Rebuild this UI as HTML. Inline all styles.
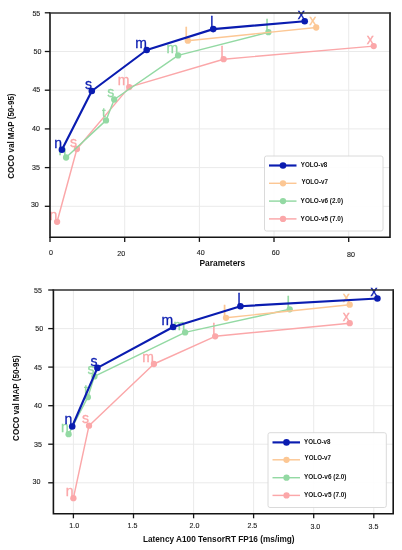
<!DOCTYPE html><html><head><meta charset="utf-8"><title>YOLO comparison</title><style>html,body{margin:0;padding:0;background:#fff}svg{display:block}text{font-family:"Liberation Sans","DejaVu Sans",sans-serif}</style></head><body>
<svg width="402" height="550" viewBox="0 0 402 550">
<rect width="402" height="550" fill="#fff"/>
<line x1="124.7" y1="13.0" x2="124.7" y2="237.3" stroke="#eaeaea" stroke-width="1"/>
<line x1="199.4" y1="13.0" x2="199.4" y2="237.3" stroke="#eaeaea" stroke-width="1"/>
<line x1="274.0" y1="13.0" x2="274.0" y2="237.3" stroke="#eaeaea" stroke-width="1"/>
<line x1="348.7" y1="13.0" x2="348.7" y2="237.3" stroke="#eaeaea" stroke-width="1"/>
<line x1="50" y1="51.5" x2="390.0" y2="51.5" stroke="#eaeaea" stroke-width="1"/>
<line x1="50" y1="90.2" x2="390.0" y2="90.2" stroke="#eaeaea" stroke-width="1"/>
<line x1="50" y1="128.9" x2="390.0" y2="128.9" stroke="#eaeaea" stroke-width="1"/>
<line x1="50" y1="167.6" x2="390.0" y2="167.6" stroke="#eaeaea" stroke-width="1"/>
<line x1="50" y1="206.3" x2="390.0" y2="206.3" stroke="#eaeaea" stroke-width="1"/>
<polyline points="57.1,221.8 76.9,149.0 129.2,87.1 223.6,59.2 373.7,46.1" fill="none" stroke="#fba7a9" stroke-width="1.45" stroke-linejoin="round"/>
<circle cx="57.1" cy="221.8" r="3.15" fill="#fba7a9"/>
<circle cx="76.9" cy="149.0" r="3.15" fill="#fba7a9"/>
<circle cx="129.2" cy="87.1" r="3.15" fill="#fba7a9"/>
<circle cx="223.6" cy="59.2" r="3.15" fill="#fba7a9"/>
<circle cx="373.7" cy="46.1" r="3.15" fill="#fba7a9"/>
<text x="57.2" y="219.5" font-size="14" font-family="DejaVu Sans,sans-serif" fill="#fba7a9" stroke="#fba7a9" stroke-width="0.3" text-anchor="end">n</text>
<text x="77.0" y="146.7" font-size="14" font-family="DejaVu Sans,sans-serif" fill="#fba7a9" stroke="#fba7a9" stroke-width="0.3" text-anchor="end">s</text>
<text x="129.3" y="84.8" font-size="14" font-family="DejaVu Sans,sans-serif" fill="#fba7a9" stroke="#fba7a9" stroke-width="0.3" text-anchor="end">m</text>
<text x="223.7" y="56.9" font-size="14" font-family="DejaVu Sans,sans-serif" fill="#fba7a9" stroke="#fba7a9" stroke-width="0.3" text-anchor="end">l</text>
<text x="373.8" y="43.8" font-size="14" font-family="DejaVu Sans,sans-serif" fill="#fba7a9" stroke="#fba7a9" stroke-width="0.3" text-anchor="end">x</text>
<polyline points="66.1,157.5 106.0,120.4 114.2,99.5 178.1,55.4 268.4,32.2" fill="none" stroke="#93d9a3" stroke-width="1.45" stroke-linejoin="round"/>
<circle cx="66.1" cy="157.5" r="3.15" fill="#93d9a3"/>
<circle cx="106.0" cy="120.4" r="3.15" fill="#93d9a3"/>
<circle cx="114.2" cy="99.5" r="3.15" fill="#93d9a3"/>
<circle cx="178.1" cy="55.4" r="3.15" fill="#93d9a3"/>
<circle cx="268.4" cy="32.2" r="3.15" fill="#93d9a3"/>
<text x="66.2" y="155.2" font-size="14" font-family="DejaVu Sans,sans-serif" fill="#93d9a3" stroke="#93d9a3" stroke-width="0.3" text-anchor="end">n</text>
<text x="105.7" y="117.0" font-size="13" font-family="DejaVu Sans,sans-serif" fill="#93d9a3" stroke="#93d9a3" stroke-width="0.3" text-anchor="end">t</text>
<text x="114.3" y="97.2" font-size="14" font-family="DejaVu Sans,sans-serif" fill="#93d9a3" stroke="#93d9a3" stroke-width="0.3" text-anchor="end">s</text>
<text x="178.2" y="53.1" font-size="14" font-family="DejaVu Sans,sans-serif" fill="#93d9a3" stroke="#93d9a3" stroke-width="0.3" text-anchor="end">m</text>
<text x="268.5" y="29.9" font-size="14" font-family="DejaVu Sans,sans-serif" fill="#93d9a3" stroke="#93d9a3" stroke-width="0.3" text-anchor="end">l</text>
<polyline points="187.8,40.7 316.2,27.5" fill="none" stroke="#fcc794" stroke-width="1.45" stroke-linejoin="round"/>
<circle cx="187.8" cy="40.7" r="3.15" fill="#fcc794"/>
<circle cx="316.2" cy="27.5" r="3.15" fill="#fcc794"/>
<text x="187.9" y="38.4" font-size="14" font-family="DejaVu Sans,sans-serif" fill="#fcc794" stroke="#fcc794" stroke-width="0.3" text-anchor="end">l</text>
<text x="316.3" y="25.2" font-size="14" font-family="DejaVu Sans,sans-serif" fill="#fcc794" stroke="#fcc794" stroke-width="0.3" text-anchor="end">x</text>
<polyline points="61.9,149.8 91.8,91.0 146.7,50.0 213.2,29.1 304.7,21.3" fill="none" stroke="#0a1cb0" stroke-width="2.15" stroke-linejoin="round"/>
<circle cx="61.9" cy="149.8" r="3.3" fill="#0a1cb0"/>
<circle cx="91.8" cy="91.0" r="3.3" fill="#0a1cb0"/>
<circle cx="146.7" cy="50.0" r="3.3" fill="#0a1cb0"/>
<circle cx="213.2" cy="29.1" r="3.3" fill="#0a1cb0"/>
<circle cx="304.7" cy="21.3" r="3.3" fill="#0a1cb0"/>
<text x="62.0" y="147.5" font-size="14" font-family="DejaVu Sans,sans-serif" fill="#0a1cb0" stroke="#0a1cb0" stroke-width="0.3" text-anchor="end">n</text>
<text x="91.9" y="88.7" font-size="14" font-family="DejaVu Sans,sans-serif" fill="#0a1cb0" stroke="#0a1cb0" stroke-width="0.3" text-anchor="end">s</text>
<text x="146.8" y="47.7" font-size="14" font-family="DejaVu Sans,sans-serif" fill="#0a1cb0" stroke="#0a1cb0" stroke-width="0.3" text-anchor="end">m</text>
<text x="213.3" y="26.8" font-size="14" font-family="DejaVu Sans,sans-serif" fill="#0a1cb0" stroke="#0a1cb0" stroke-width="0.3" text-anchor="end">l</text>
<text x="304.8" y="19.0" font-size="14" font-family="DejaVu Sans,sans-serif" fill="#0a1cb0" stroke="#0a1cb0" stroke-width="0.3" text-anchor="end">x</text>
<path d="M50 12.5V237.3H390.0V12.5" fill="none" stroke="#151515" stroke-width="1.6" stroke-linejoin="miter"/>
<line x1="49.2" y1="13.0" x2="390.8" y2="13.0" stroke="#2e2e2e" stroke-width="1.5"/>
<line x1="50.0" y1="237.3" x2="50.0" y2="241.9" stroke="#151515" stroke-width="1.3"/>
<text x="51.0" y="254.5" font-size="7.1" fill="#1c1c1c" stroke="#1c1c1c" stroke-width="0.12" text-anchor="middle">0</text>
<line x1="124.7" y1="237.3" x2="124.7" y2="241.9" stroke="#151515" stroke-width="1.3"/>
<text x="121.2" y="255.6" font-size="7.1" fill="#1c1c1c" stroke="#1c1c1c" stroke-width="0.12" text-anchor="middle">20</text>
<line x1="199.4" y1="237.3" x2="199.4" y2="241.9" stroke="#151515" stroke-width="1.3"/>
<text x="200.7" y="255.0" font-size="7.1" fill="#1c1c1c" stroke="#1c1c1c" stroke-width="0.12" text-anchor="middle">40</text>
<line x1="274.0" y1="237.3" x2="274.0" y2="241.9" stroke="#151515" stroke-width="1.3"/>
<text x="275.7" y="255.3" font-size="7.1" fill="#1c1c1c" stroke="#1c1c1c" stroke-width="0.12" text-anchor="middle">60</text>
<line x1="348.7" y1="237.3" x2="348.7" y2="241.9" stroke="#151515" stroke-width="1.3"/>
<text x="351.0" y="256.8" font-size="7.1" fill="#1c1c1c" stroke="#1c1c1c" stroke-width="0.12" text-anchor="middle">80</text>
<line x1="44.8" y1="12.8" x2="50" y2="12.8" stroke="#151515" stroke-width="1.3"/>
<text x="40.3" y="15.6" font-size="7.1" fill="#1c1c1c" stroke="#1c1c1c" stroke-width="0.12" text-anchor="end">55</text>
<line x1="44.8" y1="51.5" x2="50" y2="51.5" stroke="#151515" stroke-width="1.3"/>
<text x="41.4" y="54.0" font-size="7.1" fill="#1c1c1c" stroke="#1c1c1c" stroke-width="0.12" text-anchor="end">50</text>
<line x1="44.8" y1="90.2" x2="50" y2="90.2" stroke="#151515" stroke-width="1.3"/>
<text x="40.3" y="92.1" font-size="7.1" fill="#1c1c1c" stroke="#1c1c1c" stroke-width="0.12" text-anchor="end">45</text>
<line x1="44.8" y1="128.9" x2="50" y2="128.9" stroke="#151515" stroke-width="1.3"/>
<text x="39.9" y="131.2" font-size="7.1" fill="#1c1c1c" stroke="#1c1c1c" stroke-width="0.12" text-anchor="end">40</text>
<line x1="44.8" y1="167.6" x2="50" y2="167.6" stroke="#151515" stroke-width="1.3"/>
<text x="39.9" y="170.2" font-size="7.1" fill="#1c1c1c" stroke="#1c1c1c" stroke-width="0.12" text-anchor="end">35</text>
<line x1="44.8" y1="206.3" x2="50" y2="206.3" stroke="#151515" stroke-width="1.3"/>
<text x="38.8" y="206.9" font-size="7.1" fill="#1c1c1c" stroke="#1c1c1c" stroke-width="0.12" text-anchor="end">30</text>
<text x="199.4" y="266.3" font-size="8.3" font-weight="bold" fill="#111" textLength="45.9" lengthAdjust="spacingAndGlyphs">Parameters</text>
<text transform="translate(14.3,136.1) rotate(-90)" font-size="8.3" font-weight="bold" fill="#111" text-anchor="middle" textLength="85.2" lengthAdjust="spacingAndGlyphs">COCO val MAP (50-95)</text>
<rect x="264.5" y="156" width="118.5" height="75" rx="2" fill="#fff" fill-opacity="0.9" stroke="#d6d6d6" stroke-width="0.9"/>
<line x1="269.0" y1="165.5" x2="296.5" y2="165.5" stroke="#0a1cb0" stroke-width="2.15"/>
<circle cx="283.0" cy="165.5" r="3.3" fill="#0a1cb0"/>
<text x="300.8" y="167.2" font-size="6.6" font-weight="bold" fill="#111" textLength="26.5" lengthAdjust="spacingAndGlyphs">YOLO-v8</text>
<line x1="269.0" y1="183.3" x2="296.5" y2="183.3" stroke="#fcc794" stroke-width="1.45"/>
<circle cx="283.0" cy="183.3" r="3.15" fill="#fcc794"/>
<text x="301.4" y="183.8" font-size="6.6" font-weight="bold" fill="#111" textLength="26.5" lengthAdjust="spacingAndGlyphs">YOLO-v7</text>
<line x1="269.0" y1="201.1" x2="296.5" y2="201.1" stroke="#93d9a3" stroke-width="1.45"/>
<circle cx="283.0" cy="201.1" r="3.15" fill="#93d9a3"/>
<text x="300.6" y="202.8" font-size="6.6" font-weight="bold" fill="#111" textLength="42.5" lengthAdjust="spacingAndGlyphs">YOLO-v6 (2.0)</text>
<line x1="269.0" y1="218.9" x2="296.5" y2="218.9" stroke="#fba7a9" stroke-width="1.45"/>
<circle cx="283.0" cy="218.9" r="3.15" fill="#fba7a9"/>
<text x="300.6" y="220.6" font-size="6.6" font-weight="bold" fill="#111" textLength="42.5" lengthAdjust="spacingAndGlyphs">YOLO-v5 (7.0)</text>
<line x1="73.4" y1="290.0" x2="73.4" y2="513.7" stroke="#eaeaea" stroke-width="1"/>
<line x1="133.5" y1="290.0" x2="133.5" y2="513.7" stroke="#eaeaea" stroke-width="1"/>
<line x1="193.6" y1="290.0" x2="193.6" y2="513.7" stroke="#eaeaea" stroke-width="1"/>
<line x1="253.6" y1="290.0" x2="253.6" y2="513.7" stroke="#eaeaea" stroke-width="1"/>
<line x1="313.7" y1="290.0" x2="313.7" y2="513.7" stroke="#eaeaea" stroke-width="1"/>
<line x1="373.8" y1="290.0" x2="373.8" y2="513.7" stroke="#eaeaea" stroke-width="1"/>
<line x1="53.4" y1="328.6" x2="393.2" y2="328.6" stroke="#eaeaea" stroke-width="1"/>
<line x1="53.4" y1="367.1" x2="393.2" y2="367.1" stroke="#eaeaea" stroke-width="1"/>
<line x1="53.4" y1="405.7" x2="393.2" y2="405.7" stroke="#eaeaea" stroke-width="1"/>
<line x1="53.4" y1="444.2" x2="393.2" y2="444.2" stroke="#eaeaea" stroke-width="1"/>
<line x1="53.4" y1="482.8" x2="393.2" y2="482.8" stroke="#eaeaea" stroke-width="1"/>
<polyline points="73.4,498.2 89.0,425.7 153.9,364.0 215.2,336.3 349.7,323.2" fill="none" stroke="#fba7a9" stroke-width="1.45" stroke-linejoin="round"/>
<circle cx="73.4" cy="498.2" r="3.15" fill="#fba7a9"/>
<circle cx="89.0" cy="425.7" r="3.15" fill="#fba7a9"/>
<circle cx="153.9" cy="364.0" r="3.15" fill="#fba7a9"/>
<circle cx="215.2" cy="336.3" r="3.15" fill="#fba7a9"/>
<circle cx="349.7" cy="323.2" r="3.15" fill="#fba7a9"/>
<text x="73.5" y="495.9" font-size="14" font-family="DejaVu Sans,sans-serif" fill="#fba7a9" stroke="#fba7a9" stroke-width="0.3" text-anchor="end">n</text>
<text x="89.1" y="423.4" font-size="14" font-family="DejaVu Sans,sans-serif" fill="#fba7a9" stroke="#fba7a9" stroke-width="0.3" text-anchor="end">s</text>
<text x="154.0" y="361.7" font-size="14" font-family="DejaVu Sans,sans-serif" fill="#fba7a9" stroke="#fba7a9" stroke-width="0.3" text-anchor="end">m</text>
<text x="215.3" y="334.0" font-size="14" font-family="DejaVu Sans,sans-serif" fill="#fba7a9" stroke="#fba7a9" stroke-width="0.3" text-anchor="end">l</text>
<text x="349.8" y="320.9" font-size="14" font-family="DejaVu Sans,sans-serif" fill="#fba7a9" stroke="#fba7a9" stroke-width="0.3" text-anchor="end">x</text>
<polyline points="68.6,434.2 87.8,397.2 94.4,376.4 185.1,332.4 289.7,309.3" fill="none" stroke="#93d9a3" stroke-width="1.45" stroke-linejoin="round"/>
<circle cx="68.6" cy="434.2" r="3.15" fill="#93d9a3"/>
<circle cx="87.8" cy="397.2" r="3.15" fill="#93d9a3"/>
<circle cx="94.4" cy="376.4" r="3.15" fill="#93d9a3"/>
<circle cx="185.1" cy="332.4" r="3.15" fill="#93d9a3"/>
<circle cx="289.7" cy="309.3" r="3.15" fill="#93d9a3"/>
<text x="68.7" y="431.9" font-size="14" font-family="DejaVu Sans,sans-serif" fill="#93d9a3" stroke="#93d9a3" stroke-width="0.3" text-anchor="end">n</text>
<text x="87.9" y="394.9" font-size="14" font-family="DejaVu Sans,sans-serif" fill="#93d9a3" stroke="#93d9a3" stroke-width="0.3" text-anchor="end">t</text>
<text x="94.5" y="374.1" font-size="14" font-family="DejaVu Sans,sans-serif" fill="#93d9a3" stroke="#93d9a3" stroke-width="0.3" text-anchor="end">s</text>
<text x="185.2" y="330.1" font-size="14" font-family="DejaVu Sans,sans-serif" fill="#93d9a3" stroke="#93d9a3" stroke-width="0.3" text-anchor="end">m</text>
<text x="289.8" y="307.0" font-size="14" font-family="DejaVu Sans,sans-serif" fill="#93d9a3" stroke="#93d9a3" stroke-width="0.3" text-anchor="end">l</text>
<polyline points="226.0,317.8 349.7,304.7" fill="none" stroke="#fcc794" stroke-width="1.45" stroke-linejoin="round"/>
<circle cx="226.0" cy="317.8" r="3.15" fill="#fcc794"/>
<circle cx="349.7" cy="304.7" r="3.15" fill="#fcc794"/>
<text x="226.1" y="315.5" font-size="14" font-family="DejaVu Sans,sans-serif" fill="#fcc794" stroke="#fcc794" stroke-width="0.3" text-anchor="end">l</text>
<text x="349.8" y="302.4" font-size="14" font-family="DejaVu Sans,sans-serif" fill="#fcc794" stroke="#fcc794" stroke-width="0.3" text-anchor="end">x</text>
<polyline points="72.2,426.5 97.4,367.9 173.1,327.0 240.4,306.2 377.4,298.5" fill="none" stroke="#0a1cb0" stroke-width="2.15" stroke-linejoin="round"/>
<circle cx="72.2" cy="426.5" r="3.3" fill="#0a1cb0"/>
<circle cx="97.4" cy="367.9" r="3.3" fill="#0a1cb0"/>
<circle cx="173.1" cy="327.0" r="3.3" fill="#0a1cb0"/>
<circle cx="240.4" cy="306.2" r="3.3" fill="#0a1cb0"/>
<circle cx="377.4" cy="298.5" r="3.3" fill="#0a1cb0"/>
<text x="72.3" y="424.2" font-size="14" font-family="DejaVu Sans,sans-serif" fill="#0a1cb0" stroke="#0a1cb0" stroke-width="0.3" text-anchor="end">n</text>
<text x="97.5" y="365.6" font-size="14" font-family="DejaVu Sans,sans-serif" fill="#0a1cb0" stroke="#0a1cb0" stroke-width="0.3" text-anchor="end">s</text>
<text x="173.2" y="324.7" font-size="14" font-family="DejaVu Sans,sans-serif" fill="#0a1cb0" stroke="#0a1cb0" stroke-width="0.3" text-anchor="end">m</text>
<text x="240.5" y="303.9" font-size="14" font-family="DejaVu Sans,sans-serif" fill="#0a1cb0" stroke="#0a1cb0" stroke-width="0.3" text-anchor="end">l</text>
<text x="377.5" y="296.2" font-size="14" font-family="DejaVu Sans,sans-serif" fill="#0a1cb0" stroke="#0a1cb0" stroke-width="0.3" text-anchor="end">x</text>
<path d="M53.4 289.5V513.7H393.2V289.5" fill="none" stroke="#151515" stroke-width="1.6" stroke-linejoin="miter"/>
<line x1="52.6" y1="290.0" x2="394.0" y2="290.0" stroke="#2e2e2e" stroke-width="1.5"/>
<line x1="73.4" y1="513.7" x2="73.4" y2="518.3000000000001" stroke="#151515" stroke-width="1.3"/>
<text x="74.3" y="528.1" font-size="7.1" fill="#1c1c1c" stroke="#1c1c1c" stroke-width="0.12" text-anchor="middle">1.0</text>
<line x1="133.5" y1="513.7" x2="133.5" y2="518.3000000000001" stroke="#151515" stroke-width="1.3"/>
<text x="132.5" y="528.1" font-size="7.1" fill="#1c1c1c" stroke="#1c1c1c" stroke-width="0.12" text-anchor="middle">1.5</text>
<line x1="193.6" y1="513.7" x2="193.6" y2="518.3000000000001" stroke="#151515" stroke-width="1.3"/>
<text x="194.5" y="528.1" font-size="7.1" fill="#1c1c1c" stroke="#1c1c1c" stroke-width="0.12" text-anchor="middle">2.0</text>
<line x1="253.6" y1="513.7" x2="253.6" y2="518.3000000000001" stroke="#151515" stroke-width="1.3"/>
<text x="252.4" y="528.1" font-size="7.1" fill="#1c1c1c" stroke="#1c1c1c" stroke-width="0.12" text-anchor="middle">2.5</text>
<line x1="313.7" y1="513.7" x2="313.7" y2="518.3000000000001" stroke="#151515" stroke-width="1.3"/>
<text x="315.4" y="529.4" font-size="7.1" fill="#1c1c1c" stroke="#1c1c1c" stroke-width="0.12" text-anchor="middle">3.0</text>
<line x1="373.8" y1="513.7" x2="373.8" y2="518.3000000000001" stroke="#151515" stroke-width="1.3"/>
<text x="373.5" y="529.4" font-size="7.1" fill="#1c1c1c" stroke="#1c1c1c" stroke-width="0.12" text-anchor="middle">3.5</text>
<line x1="48.199999999999996" y1="290.0" x2="53.4" y2="290.0" stroke="#151515" stroke-width="1.3"/>
<text x="42.0" y="292.8" font-size="7.1" fill="#1c1c1c" stroke="#1c1c1c" stroke-width="0.12" text-anchor="end">55</text>
<line x1="48.199999999999996" y1="328.6" x2="53.4" y2="328.6" stroke="#151515" stroke-width="1.3"/>
<text x="43.1" y="331.1" font-size="7.1" fill="#1c1c1c" stroke="#1c1c1c" stroke-width="0.12" text-anchor="end">50</text>
<line x1="48.199999999999996" y1="367.1" x2="53.4" y2="367.1" stroke="#151515" stroke-width="1.3"/>
<text x="42.0" y="369.6" font-size="7.1" fill="#1c1c1c" stroke="#1c1c1c" stroke-width="0.12" text-anchor="end">45</text>
<line x1="48.199999999999996" y1="405.7" x2="53.4" y2="405.7" stroke="#151515" stroke-width="1.3"/>
<text x="42.0" y="408.2" font-size="7.1" fill="#1c1c1c" stroke="#1c1c1c" stroke-width="0.12" text-anchor="end">40</text>
<line x1="48.199999999999996" y1="444.2" x2="53.4" y2="444.2" stroke="#151515" stroke-width="1.3"/>
<text x="42.0" y="447.2" font-size="7.1" fill="#1c1c1c" stroke="#1c1c1c" stroke-width="0.12" text-anchor="end">35</text>
<line x1="48.199999999999996" y1="482.8" x2="53.4" y2="482.8" stroke="#151515" stroke-width="1.3"/>
<text x="40.5" y="484.2" font-size="7.1" fill="#1c1c1c" stroke="#1c1c1c" stroke-width="0.12" text-anchor="end">30</text>
<text x="142.9" y="541.9" font-size="8.3" font-weight="bold" fill="#111" textLength="151.7" lengthAdjust="spacingAndGlyphs">Latency A100 TensorRT FP16 (ms/img)</text>
<text transform="translate(18.5,398.1) rotate(-90)" font-size="8.3" font-weight="bold" fill="#111" text-anchor="middle" textLength="85.6" lengthAdjust="spacingAndGlyphs">COCO val MAP (50-95)</text>
<rect x="268" y="432.7" width="118.3" height="74.8" rx="2" fill="#fff" fill-opacity="0.9" stroke="#d6d6d6" stroke-width="0.9"/>
<line x1="272.5" y1="442.4" x2="300" y2="442.4" stroke="#0a1cb0" stroke-width="2.15"/>
<circle cx="286.5" cy="442.4" r="3.3" fill="#0a1cb0"/>
<text x="304" y="444.1" font-size="6.6" font-weight="bold" fill="#111" textLength="26.5" lengthAdjust="spacingAndGlyphs">YOLO-v8</text>
<line x1="272.5" y1="459.8" x2="300" y2="459.8" stroke="#fcc794" stroke-width="1.45"/>
<circle cx="286.5" cy="459.8" r="3.15" fill="#fcc794"/>
<text x="304.5" y="460.3" font-size="6.6" font-weight="bold" fill="#111" textLength="26.5" lengthAdjust="spacingAndGlyphs">YOLO-v7</text>
<line x1="272.5" y1="477.7" x2="300" y2="477.7" stroke="#93d9a3" stroke-width="1.45"/>
<circle cx="286.5" cy="477.7" r="3.15" fill="#93d9a3"/>
<text x="304" y="479.4" font-size="6.6" font-weight="bold" fill="#111" textLength="42.5" lengthAdjust="spacingAndGlyphs">YOLO-v6 (2.0)</text>
<line x1="272.5" y1="495.4" x2="300" y2="495.4" stroke="#fba7a9" stroke-width="1.45"/>
<circle cx="286.5" cy="495.4" r="3.15" fill="#fba7a9"/>
<text x="304" y="497.1" font-size="6.6" font-weight="bold" fill="#111" textLength="42.5" lengthAdjust="spacingAndGlyphs">YOLO-v5 (7.0)</text>
</svg></body></html>
